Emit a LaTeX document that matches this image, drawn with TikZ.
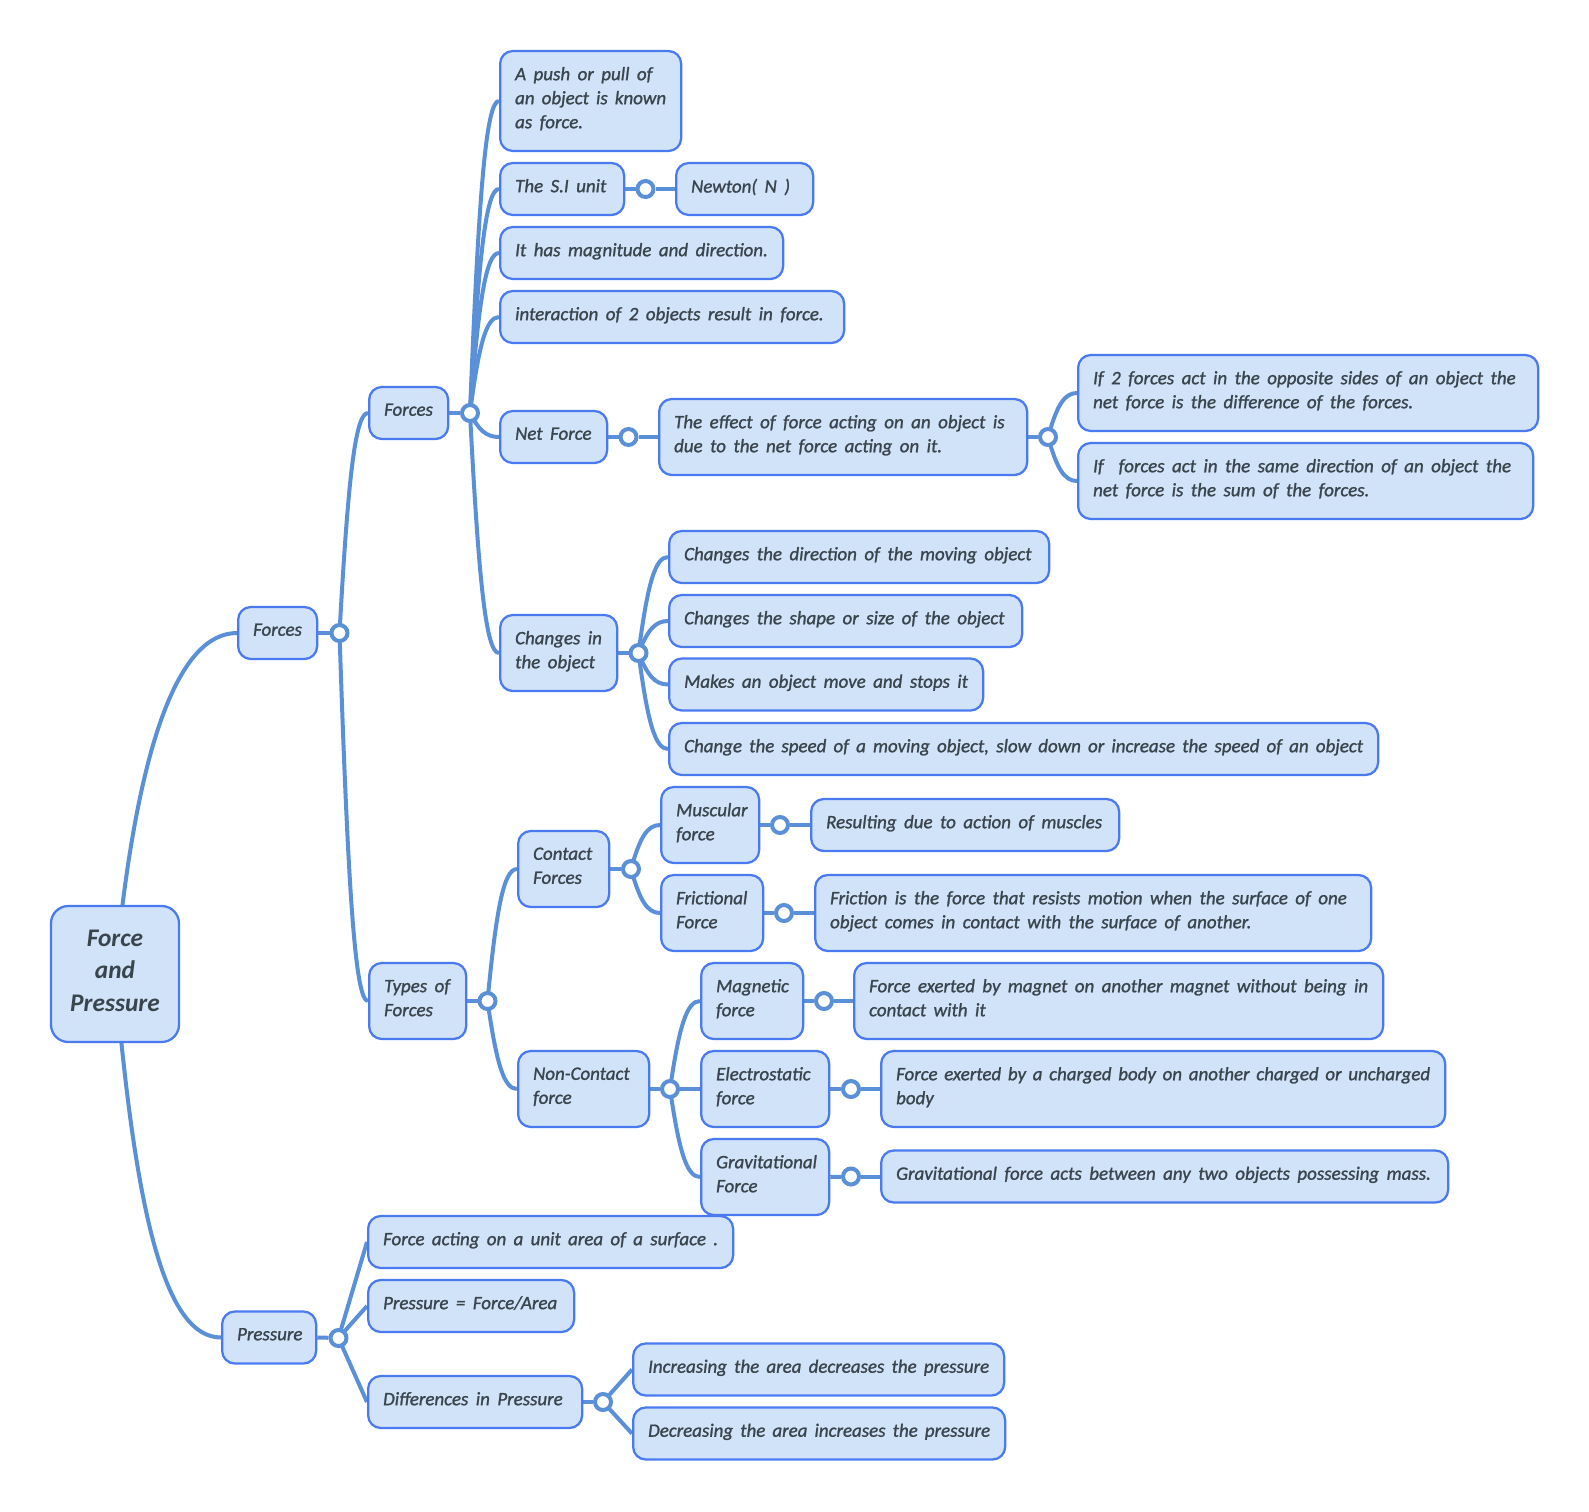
\documentclass[tikz,border=0pt]{standalone}
\usepackage{fontspec}
\setmainfont{Carlito}
\newfontface\boxface[FakeBold=1.2,WordSpace=1.75]{Carlito Italic}
\usetikzlibrary{calc,backgrounds}
\definecolor{boxfill}{HTML}{D1E3F8}
\definecolor{boxline}{HTML}{4A7AF2}
\definecolor{linkline}{HTML}{5A90D8}
\definecolor{inktext}{HTML}{3A444C}
\tikzset{
	box/.style={draw=boxline,fill=boxfill,line width=1.7pt,rounded corners=9.5pt,anchor=west,xshift=-0.75pt,
		text=inktext,align=flush left,inner xsep=11.25pt,inner ysep=0pt,text depth=5pt,
		font=\fontsize{14.2}{18}\boxface,
		minimum height=39pt,minimum width={(#1)*0.75pt},text width={((#1)-30)*0.75pt}},
	two/.style={minimum height=57pt,text depth=23pt},
	three/.style={minimum height=75pt,text depth=41pt},
	dot/.style={circle,draw=linkline,fill=white,line width=3pt,inner sep=0pt,minimum size=12pt},
	branch/.style={to path={.. controls ($(\tikztostart)!0.7!(\tikztostart |- \tikztotarget) + 0.3*(\tikztotarget) - 0.3*(\tikztostart |- \tikztotarget)$)
		and ($(\tikztotarget)!0.45!(\tikztostart |- \tikztotarget)$) .. (\tikztotarget)}}
}
\begin{document}
\begin{tikzpicture}[x=0.75pt, y=-0.75pt]
		\useasboundingbox (0,0) rectangle (1589,1511);
		% boxes, left edge and middle height
		\node[draw=boxline,fill=boxfill,line width=1.7pt,rounded corners=13pt,text=inktext,align=center,
			inner sep=0pt,minimum width=96pt,minimum height=102pt,text depth=5pt,
			font=\fontsize{19}{24.4}\selectfont\bfseries\itshape] (root) at (115,974) {Force\\and\\Pressure};
		\node[box=79] (forces) at (238,633) {Forces};
		\node[box=94] (pressure) at (222,1337.5) {Pressure};
		\node[box=79] (forcesT) at (369,413) {Forces};
		\node[box=97,two] (types) at (369,1001) {Types of\\Forces};

		\node[box=181,three] (push) at (500,101) {A push or pull of\\an object is known\\as force.};
		\node[box=124] (siunit) at (500,189) {The S.I unit};
		\node[box=137] (newton) at (676,189) {Newton( N )};
		\node[box=283] (magnitude) at (500,253) {It has magnitude and direction.};
		\node[box=344] (interact) at (500,317) {interaction of 2 objects result in force.};
		\node[box=107] (netforce) at (500,437) {Net Force};
		\node[box=368,two] (effect) at (659,437) {The effect of force acting on an object is\\due to the net force acting on it.};
		\node[box=460,two] (opposite) at (1078,393) {If 2 forces act in the opposite sides of an object the\\net force is the difference of the forces.};
		\node[box=455,two] (same) at (1078,481) {If~ forces act in the same direction of an object the\\net force is the sum of the forces.};

		\node[box=117,two] (changes) at (500,653) {Changes in\\the object};
		\node[box=380] (direction) at (669,557) {Changes the direction of the moving object};
		\node[box=353] (shape) at (669,621) {Changes the shape or size of the object};
		\node[box=314] (moves) at (669,684.5) {Makes an object move and stops it};
		\node[box=709] (speed) at (669,749) {Change the speed of a moving object, slow down or increase the speed of an object};

		\node[box=91,two] (contact) at (518,869) {Contact\\Forces};
		\node[box=98,two] (muscular) at (661,825) {Muscular\\force};
		\node[box=308] (muscles) at (811,825) {Resulting due to action of muscles};
		\node[box=102,two] (frictional) at (661,913) {Frictional\\Force};
		\node[box=556,two] (friction) at (815,913) {Friction is the force that resists motion when the surface of one\\object comes in contact with the surface of another.};

		\node[box=131,two] (noncontact) at (518,1089) {Non-Contact\\force};
		\node[box=102,two] (magnetic) at (701,1001) {Magnetic\\force};
		\node[box=529,two] (magnet) at (854,1001) {Force exerted by magnet on another magnet without being in\\contact with it};
		\node[box=128,two] (electro) at (701,1089) {Electrostatic\\force};
		\node[box=564,two] (charged) at (881,1089) {Force exerted by a charged body on another charged or uncharged\\body};
		\node[box=128,two] (gravity) at (701,1177) {Gravitational\\Force};
		\node[box=567] (mass) at (881,1176.5) {Gravitational force acts between any two objects possessing mass.};

		\node[box=365] (unitarea) at (368,1242) {Force acting on a unit area of a surface .};
		\node[box=206] (formula) at (368,1306) {Pressure = Force/Area};
		\node[box=214] (differ) at (368,1402) {Differences in Pressure};
		\node[box=371] (increase) at (633,1369.5) {Increasing the area decreases the pressure};
		\node[box=372] (decrease) at (633,1433.5) {Decreasing the area increases the pressure};

		% junctions
		\node[dot] (jforces) at (339.5,633) {};
		\node[dot] (jforcesT) at (470,413) {};
		\node[dot] (jsiunit) at (645.5,189) {};
		\node[dot] (jnetforce) at (628.5,437) {};
		\node[dot] (jeffect) at (1048,437) {};
		\node[dot] (jchanges) at (638.5,653) {};
		\node[dot] (jtypes) at (487.5,1001) {};
		\node[dot] (jcontact) at (631,869) {};
		\node[dot] (jmuscular) at (780,825) {};
		\node[dot] (jfrictional) at (784,913) {};
		\node[dot] (jnoncontact) at (670,1089) {};
		\node[dot] (jmagnetic) at (824,1001) {};
		\node[dot] (jelectro) at (851,1089) {};
		\node[dot] (jgravity) at (851,1176.5) {};
		\node[dot] (jpressure) at (338.5,1338) {};
		\node[dot] (jdiffer) at (603,1402) {};

		\begin{scope}[on background layer, every path/.style={draw=linkline,line width=3pt}]
			\draw (root.center) .. controls +(22,-236) and +(-57,0) .. (forces.west);
			\draw (root.center) .. controls +(20,236) and +(-57,0) .. (pressure.west);
			\path (forces.east) edge (jforces);
			\path (jforces.center)
				edge[branch] (forcesT.west)
				edge[branch] (types.west);
			\path (forcesT.east) edge (jforcesT);
			\path (jforcesT.center)
				edge[branch] (push.west)
				edge[branch] (siunit.west)
				edge[branch] (magnitude.west)
				edge[branch] (interact.west)
				edge[branch] (netforce.west)
				edge[branch] (changes.west);
			\path (siunit.east) edge (jsiunit);
			\path (jsiunit) edge (newton.west);
			\path (netforce.east) edge (jnetforce);
			\path (jnetforce) edge (effect.west);
			\path (effect.east) edge (jeffect);
			\path (jeffect.center)
				edge[branch] (opposite.west)
				edge[branch] (same.west);
			\path (changes.east) edge (jchanges);
			\path (jchanges.center)
				edge[branch] (direction.west)
				edge[branch] (shape.west)
				edge[branch] (moves.west)
				edge[branch] (speed.west);
			\path (types.east) edge (jtypes);
			\path (jtypes.center)
				edge[branch] (contact.west)
				edge[branch] (noncontact.west);
			\path (contact.east) edge (jcontact);
			\path (jcontact.center)
				edge[branch] (muscular.west)
				edge[branch] (frictional.west);
			\path (muscular.east) edge (jmuscular);
			\path (jmuscular) edge (muscles.west);
			\path (frictional.east) edge (jfrictional);
			\path (jfrictional) edge (friction.west);
			\path (noncontact.east) edge (jnoncontact);
			\path (jnoncontact.center)
				edge[branch] (magnetic.west)
				edge (electro.west)
				edge[branch] (gravity.west);
			\path (magnetic.east) edge (jmagnetic);
			\path (jmagnetic) edge (magnet.west);
			\path (electro.east) edge (jelectro);
			\path (jelectro) edge (charged.west);
			\path (gravity.east) edge (jgravity);
			\path (jgravity) edge (mass.west);
			\path (pressure.east) edge (jpressure);
			\path (jpressure.center)
				edge (unitarea.west)
				edge (formula.west)
				edge (differ.west);
			\path (differ.east) edge (jdiffer);
			\path (jdiffer.center)
				edge (increase.west)
				edge (decrease.west);
		\end{scope}
	\end{tikzpicture}
\end{document}
